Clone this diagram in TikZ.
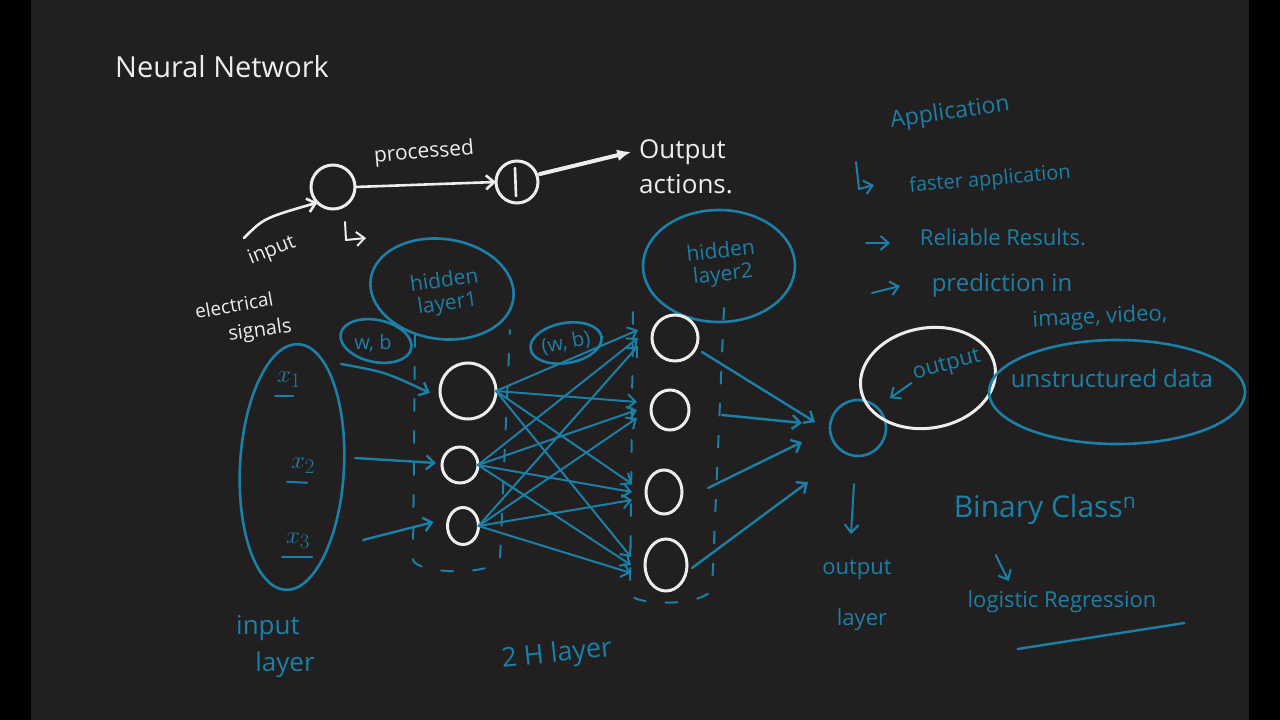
\documentclass[tikz,border=0pt]{standalone}
\usepackage{fontspec}
\setmainfont{Open Sans}
\usetikzlibrary{arrows.meta,shapes.geometric,calc}
\definecolor{bgc}{HTML}{211F1F}
\definecolor{bc}{HTML}{1A80A8}
\definecolor{wc}{HTML}{EDEDED}
\newcommand{\fsz}[2]{\fontsize{#1pt}{#2pt}\selectfont}
\begin{document}
\begin{tikzpicture}[x=1pt,y=-1pt,
 every node/.style={inner sep=0pt, outer sep=0pt},
 wt/.style={text=wc},
 bt/.style={text=bc},
 wneu/.style={ellipse, draw=wc, line width=3pt},
 bneu/.style={circle, draw=bc, line width=2.6pt},
 bshape/.style={ellipse, draw=bc, line width=2.6pt},
 wshape/.style={ellipse, draw=wc, line width=3pt},
 bline/.style={draw=bc, line width=2.4pt, line cap=round, line join=round},
 barrow/.style={bline, -{Straight Barb[length=8pt,width=14pt]}},
 wline/.style={draw=wc, line width=2.6pt, line cap=round, line join=round},
 warrow/.style={wline, -{Straight Barb[length=8pt,width=14pt]}},
 bdash/.style={bline, line width=2pt, dash pattern=on 12pt off 20pt},
]
\useasboundingbox (0,0) rectangle (1280,720);
\fill[black] (0,0) rectangle (1280,720);
\fill[bgc] (31,0) rectangle (1249,720);

% title
\node[wt, font=\fsz{29}{34}] (title) at (222,67) {Neural Network};

% top single neuron
\node[wneu, minimum width=44pt, minimum height=44pt] (n1) at (333,187) {};
\node[wneu, minimum width=42pt, minimum height=42pt] (n2) at (517,182) {};
\draw[wline] ($(n2)+(-2,-14)$) -- ($(n2)+(-1,14)$);
\node[wt, font=\fsz{21}{25}, rotate=5] (proc) at (424,153) {processed};
\draw[warrow] (n1.east) -- (n2.west);
\node[wt, font=\fsz{26}{35}, align=left] (outact) at (686,167) {Output\\actions.};
\draw[wline, line width=4pt, -{Latex[length=14pt,width=12pt]}] ($(n2.east)+(2,-8)$) -- ($(outact.north west)+(-8,12)$);

\node[wt, font=\fsz{20}{24}, rotate=22] (inpw) at (272,251) {input};
\node[wt, font=\fsz{19}{23}, rotate=10] (elec) at (234,305) {electrical};
\node[wt, font=\fsz{20}{24}, rotate=8] (sig) at (260,331) {signals};
\coordinate (ia) at (244,238);
\draw[warrow] (ia) .. controls (264,218) .. (n1.225);
\draw[warrow, line width=2pt] ($(n1.south)+(12,13)$) -- ++(1,18) -- ++(20,-2);

% input layer
\node[bshape, minimum width=104pt, minimum height=246pt, rotate=-3] (inp) at (292,467) {};
\node[bt, font=\fsz{28}{30}] (x1) at (289,380) {$x_1$};
\node[bt, font=\fsz{28}{30}] (x2) at (303,466) {$x_2$};
\node[bt, font=\fsz{28}{30}] (x3) at (298,541) {$x_3$};
\draw[bline, line width=2pt] ($(x1.south west)+(-2,8)$) -- ++(18,0);
\draw[bline, line width=2pt] ($(x2.south west)+(-4,8)$) -- ++(20,1);
\draw[bline, line width=2pt] ($(x3.south west)+(-4,8)$) -- ++(30,0);
\node[bt, font=\fsz{26}{30}] (il1) at (268,628) {input};
\node[bt, font=\fsz{26}{30}] (il2) at (285,665) {layer};

% weights
\node[bshape, minimum width=72pt, minimum height=42pt, rotate=-12] (wb1) at (376,341) {};
\node[bt, font=\fsz{20}{24}] (wb1t) at (373,343) {w, b};
\node[bshape, minimum width=72pt, minimum height=40pt, rotate=10] (wb2) at (566,343) {};
\node[bt, font=\fsz{20}{24}, rotate=10] (wb2t) at (566,343) {(w, b)};

% hidden layer labels
\node[bshape, minimum width=144pt, minimum height=100pt, rotate=-8] (hl1) at (442,289) {};
\node[bt, font=\fsz{21}{23}, align=center, rotate=8] (hl1t) at (446,293) {hidden\\layer1};
\node[bshape, minimum width=152pt, minimum height=112pt] (hl2) at (719,266) {};
\node[bt, font=\fsz{21}{23}, align=center, rotate=6] (hl2t) at (722,264) {hidden\\layer2};

% dashed layer boxes
\draw[bdash] (415,335) -- (413,560) .. controls (418,574) and (490,576) .. (500,560) -- (510,330);
\draw[bdash] (633,312) -- (630,595) .. controls (640,606) and (700,606) .. (712,590) -- (724,308);

% neurons
\node[wneu, minimum width=56pt, minimum height=56pt] (h1a) at (468,391) {};
\node[wneu, minimum width=36pt, minimum height=36pt] (h1b) at (460,465) {};
\node[wneu, minimum width=31pt, minimum height=37pt] (h1c) at (463,526) {};
\node[wneu, minimum width=46pt, minimum height=46pt] (h2a) at (675,338) {};
\node[wneu, minimum width=38pt, minimum height=40pt] (h2b) at (670,410) {};
\node[wneu, minimum width=36pt, minimum height=44pt] (h2c) at (664,492) {};
\node[wneu, minimum width=42pt, minimum height=52pt] (h2d) at (666,565) {};
\node[bneu, minimum size=56pt] (out) at (858,428) {};

% input -> hidden 1
\coordinate (s1) at (341,364);
\coordinate (s2) at (355,458);
\coordinate (s3) at (363,540);
\draw[barrow] (s1) .. controls (385,372) .. ($(h1a.west)+(-10,2)$);
\draw[barrow] (s2) -- ($(h1b.west)+(-6,-2)$);
\draw[barrow] (s3) -- ($(h1c.west)+(-14,-4)$);

% hidden 1 -> hidden 2
\foreach \s/\dy in {h1a/-8,h1b/0,h1c/8}{
  \foreach \t in {h2a,h2b,h2c,h2d}{
    \draw[barrow, line width=2pt] (\s.east) -- ($(\t.west)+(-14,\dy)$);
  }
}

% hidden 2 -> output
\draw[barrow] ($(h2a)+(27,14)$) -- ($(out)+(-43,-6)$);
\draw[barrow] ($(h2b)+(52,5)$) -- ($(out)+(-56,-5)$);
\draw[barrow] ($(h2c)+(44,-4)$) -- ($(out)+(-56,14)$);
\draw[barrow] ($(h2d)+(26,3)$) -- ($(out)+(-50,54)$);

% output
\node[wshape, minimum width=136pt, minimum height=100pt, rotate=10] (outw) at (928,378) {};
\node[bt, font=\fsz{22}{26}, rotate=15] (outt) at (947,366) {output};
\draw[barrow, line width=2pt] ($(outt.west)+(-2,8)$) -- ($(out.north east)+(12,-10)$);
\node[bt, font=\fsz{22}{26}] (ol1) at (857,570) {output};
\node[bt, font=\fsz{22}{26}] (ol2) at (862,620) {layer};
\draw[barrow, line width=2pt] ($(out.south)+(-4,28)$) -- ($(ol1.north)+(-6,-26)$);

\node[bt, font=\fsz{27}{30}, rotate=6] (hh) at (557,655) {2 H layer};

% right side
\node[bt, font=\fsz{23}{27}, rotate=8] (app) at (950,113) {Application};
\coordinate (hk) at (856,162);
\draw[barrow, line width=2pt] (hk) -- ++(3,27) -- ++(15,-4);
\node[bt, font=\fsz{20}{24}, rotate=5] (fa) at (990,180) {faster application};
\coordinate (a2) at (866,243);
\draw[barrow, line width=2pt] (a2) -- ++(24,0);
\node[bt, font=\fsz{22}{26}] (rr) at (1003,237) {Reliable Results.};
\coordinate (a3) at (872,293);
\draw[barrow, line width=2pt] (a3) -- ++(28,-7);
\node[bt, font=\fsz{24}{28}] (pi) at (1002,285) {prediction in};
\node[bt, font=\fsz{22}{26}, rotate=3] (img) at (1100,318) {image, video,};
\node[bshape, minimum width=256pt, minimum height=104pt] (ud) at (1117,392) {};
\node[bt, font=\fsz{24}{28}] (udt) at (1112,378) {unstructured data};

\node[bt, font=\fsz{30}{34}] (bin) at (1045,510) {Binary Class\textsuperscript{n}};
\node[bt, font=\fsz{22}{26}] (log) at (1062,602) {logistic Regression};
\draw[barrow, line width=2pt] ($(bin.south west)+(42,30)$) -- ($(log.north west)+(41,-10)$);
\draw[bline] ($(log.south west)+(50,36)$) -- ($(log.south east)+(28,10)$);
\end{tikzpicture}
\end{document}
